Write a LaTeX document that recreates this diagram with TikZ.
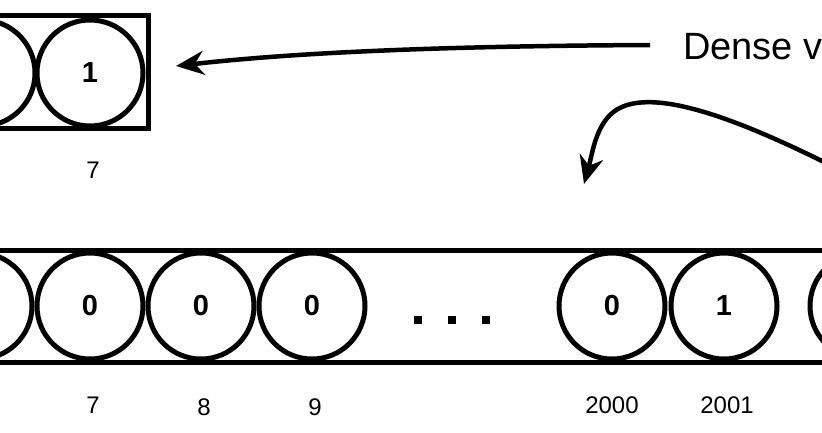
\documentclass[tikz,border=0pt]{standalone}
\usepackage{fontspec}
\setmainfont{Liberation Sans}
\usetikzlibrary{arrows.meta}
\begin{document}
\begin{tikzpicture}[x=1pt,y=-1pt,
  thick line/.style={line width=5pt},
  cell/.style={circle,draw,line width=5pt,minimum size=106pt,inner sep=0pt,font=\fontsize{29}{32}\selectfont\bfseries},
  idx/.style={font=\fontsize{24}{26}\selectfont},
  dot/.style={fill,minimum size=8pt,inner sep=0pt},
  arr/.style={line width=4.5pt,-{Stealth[length=28pt,width=24pt]}}]
\useasboundingbox (0,0) rectangle (822,432);
\begin{scope}
\clip (0,0) rectangle (822,432);
\draw[thick line] (-40,15) rectangle (148,128);
\node[cell] (t0) at (-18,73) {};
\node[cell] (t1) at (90,73) {1};
\node[idx] (l7t) at (93,170) {7};
\draw[thick line] (-40,250) -- (900,250) (-40,362) -- (900,362);
\node[cell] (b0) at (-21,306) {};
\node[cell] (b7) at (90,306) {0};
\node[cell] (b8) at (201,306) {0};
\node[cell] (b9) at (312,306) {0};
\node[dot] (d1) at (418,320) {};
\node[dot] (d2) at (452,320) {};
\node[dot] (d3) at (486,320) {};
\node[cell] (b2000) at (612,306) {0};
\node[cell] (b2001) at (724,306) {1};
\node[cell] (bx) at (863,306) {};
\node[idx] at (93,405) {7};
\node[idx] at (204,407) {8};
\node[idx] at (315,407) {9};
\node[idx] at (612,405) {2000};
\node[idx] at (727,405) {2001};
\node[anchor=west,font=\fontsize{38}{40}\selectfont,inner sep=0pt] (lab) at (683,47) {Dense v};
\coordinate (a1s) at (650,45);
\coordinate (a1e) at (176,66);
\draw[arr] (a1s) .. controls (450,46) and (300,52) .. (a1e);
\coordinate (a2s) at (830,165);
\coordinate (a2e) at (584,184);
\draw[arr] (a2s) .. controls (720,110) and (640,85) .. (610,115) .. controls (595,130) and (592,155) .. (a2e);
\end{scope}
\end{tikzpicture}
\end{document}
